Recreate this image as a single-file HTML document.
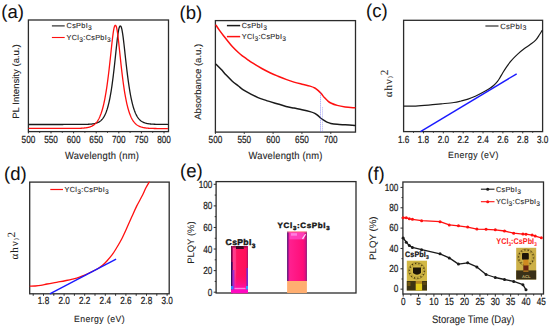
<!DOCTYPE html>
<html><head><meta charset="utf-8"><style>
html,body{margin:0;padding:0;background:#fff;}
svg{display:block;text-rendering:geometricPrecision;}
</style></head><body>
<svg width="550" height="328" viewBox="0 0 550 328">
<rect width="550" height="328" fill="#fff"/>
<rect x="28.4" y="20.0" width="140.1" height="111.6" fill="none" stroke="#2b2b2b" stroke-width="1.3"/>
<line x1="28.4" y1="131.6" x2="28.4" y2="133.35999999999999" stroke="#2b2b2b" stroke-width="1.0" />
<text x="0" y="0" font-size="8.2" text-anchor="middle" font-weight="normal" fill="#222" stroke="#222" stroke-width="0.18" font-family='"Liberation Sans", sans-serif' transform="translate(28.4 142.7) scale(1 1.25)" >500</text>
<line x1="39.7" y1="131.6" x2="39.7" y2="132.79999999999998" stroke="#2b2b2b" stroke-width="1.0" />
<line x1="51.0" y1="131.6" x2="51.0" y2="133.35999999999999" stroke="#2b2b2b" stroke-width="1.0" />
<text x="0" y="0" font-size="8.2" text-anchor="middle" font-weight="normal" fill="#222" stroke="#222" stroke-width="0.18" font-family='"Liberation Sans", sans-serif' transform="translate(51.0 142.7) scale(1 1.25)" >550</text>
<line x1="62.3" y1="131.6" x2="62.3" y2="132.79999999999998" stroke="#2b2b2b" stroke-width="1.0" />
<line x1="73.6" y1="131.6" x2="73.6" y2="133.35999999999999" stroke="#2b2b2b" stroke-width="1.0" />
<text x="0" y="0" font-size="8.2" text-anchor="middle" font-weight="normal" fill="#222" stroke="#222" stroke-width="0.18" font-family='"Liberation Sans", sans-serif' transform="translate(73.6 142.7) scale(1 1.25)" >600</text>
<line x1="84.9" y1="131.6" x2="84.9" y2="132.79999999999998" stroke="#2b2b2b" stroke-width="1.0" />
<line x1="96.19999999999999" y1="131.6" x2="96.19999999999999" y2="133.35999999999999" stroke="#2b2b2b" stroke-width="1.0" />
<text x="0" y="0" font-size="8.2" text-anchor="middle" font-weight="normal" fill="#222" stroke="#222" stroke-width="0.18" font-family='"Liberation Sans", sans-serif' transform="translate(96.19999999999999 142.7) scale(1 1.25)" >650</text>
<line x1="107.5" y1="131.6" x2="107.5" y2="132.79999999999998" stroke="#2b2b2b" stroke-width="1.0" />
<line x1="118.80000000000001" y1="131.6" x2="118.80000000000001" y2="133.35999999999999" stroke="#2b2b2b" stroke-width="1.0" />
<text x="0" y="0" font-size="8.2" text-anchor="middle" font-weight="normal" fill="#222" stroke="#222" stroke-width="0.18" font-family='"Liberation Sans", sans-serif' transform="translate(118.80000000000001 142.7) scale(1 1.25)" >700</text>
<line x1="130.1" y1="131.6" x2="130.1" y2="132.79999999999998" stroke="#2b2b2b" stroke-width="1.0" />
<line x1="141.4" y1="131.6" x2="141.4" y2="133.35999999999999" stroke="#2b2b2b" stroke-width="1.0" />
<text x="0" y="0" font-size="8.2" text-anchor="middle" font-weight="normal" fill="#222" stroke="#222" stroke-width="0.18" font-family='"Liberation Sans", sans-serif' transform="translate(141.4 142.7) scale(1 1.25)" >750</text>
<line x1="152.7" y1="131.6" x2="152.7" y2="132.79999999999998" stroke="#2b2b2b" stroke-width="1.0" />
<line x1="164.0" y1="131.6" x2="164.0" y2="133.35999999999999" stroke="#2b2b2b" stroke-width="1.0" />
<text x="0" y="0" font-size="8.2" text-anchor="middle" font-weight="normal" fill="#222" stroke="#222" stroke-width="0.18" font-family='"Liberation Sans", sans-serif' transform="translate(164.0 142.7) scale(1 1.25)" >800</text>
<text x="0" y="0" font-size="9.4" text-anchor="middle" font-weight="normal" fill="#222" stroke="#222" stroke-width="0.1" font-family='"Liberation Sans", sans-serif' transform="translate(102.0 158.7) scale(1 1.1)" letter-spacing="0.2">Wavelength (nm)</text>
<text x="0" y="0" font-size="9.2" text-anchor="middle" font-weight="normal" fill="#222" stroke="#222" stroke-width="0.1" font-family='"Liberation Sans", sans-serif' transform="translate(19.0 81.5) rotate(-90)" textLength="74.5" lengthAdjust="spacingAndGlyphs" >PL Intensity (a.u.)</text>
<text x="0" y="0" font-size="18.5" text-anchor="start" font-weight="normal" fill="#111" stroke="#111" stroke-width="0.05" font-family='"Liberation Sans", sans-serif' transform="translate(1.3 17.8) scale(1 1.0)" >(a)</text>
<path d="M29.10,124.50 L29.50,124.50 L29.90,124.50 L30.30,124.50 L30.70,124.50 L31.10,124.50 L31.50,124.50 L31.90,124.50 L32.30,124.50 L32.70,124.50 L33.10,124.50 L33.50,124.50 L33.90,124.50 L34.30,124.50 L34.70,124.50 L35.10,124.50 L35.50,124.49 L35.90,124.49 L36.30,124.49 L36.70,124.49 L37.10,124.49 L37.50,124.49 L37.90,124.49 L38.30,124.49 L38.70,124.49 L39.10,124.49 L39.50,124.49 L39.90,124.49 L40.30,124.49 L40.70,124.49 L41.10,124.49 L41.50,124.49 L41.90,124.49 L42.30,124.49 L42.70,124.49 L43.10,124.49 L43.50,124.49 L43.90,124.49 L44.30,124.49 L44.70,124.49 L45.10,124.49 L45.50,124.49 L45.90,124.49 L46.30,124.49 L46.70,124.49 L47.10,124.49 L47.50,124.49 L47.90,124.49 L48.30,124.49 L48.70,124.49 L49.10,124.49 L49.50,124.48 L49.90,124.48 L50.30,124.48 L50.70,124.48 L51.10,124.48 L51.50,124.48 L51.90,124.48 L52.30,124.48 L52.70,124.48 L53.10,124.48 L53.50,124.48 L53.90,124.48 L54.30,124.48 L54.70,124.48 L55.10,124.48 L55.50,124.48 L55.90,124.48 L56.30,124.48 L56.70,124.48 L57.10,124.48 L57.50,124.48 L57.90,124.48 L58.30,124.48 L58.70,124.48 L59.10,124.48 L59.50,124.48 L59.90,124.48 L60.30,124.48 L60.70,124.48 L61.10,124.48 L61.50,124.48 L61.90,124.48 L62.30,124.48 L62.70,124.48 L63.10,124.48 L63.50,124.47 L63.90,124.47 L64.30,124.47 L64.70,124.47 L65.10,124.47 L65.50,124.47 L65.90,124.47 L66.30,124.47 L66.70,124.47 L67.10,124.47 L67.50,124.47 L67.90,124.47 L68.30,124.47 L68.70,124.47 L69.10,124.47 L69.50,124.47 L69.90,124.47 L70.30,124.47 L70.70,124.47 L71.10,124.47 L71.50,124.47 L71.90,124.47 L72.30,124.47 L72.70,124.47 L73.10,124.46 L73.50,124.46 L73.90,124.46 L74.30,124.46 L74.70,124.46 L75.10,124.46 L75.50,124.46 L75.90,124.46 L76.30,124.46 L76.70,124.46 L77.10,124.45 L77.50,124.45 L77.90,124.45 L78.30,124.45 L78.70,124.45 L79.10,124.45 L79.50,124.44 L79.90,124.44 L80.30,124.44 L80.70,124.44 L81.10,124.43 L81.50,124.43 L81.90,124.43 L82.30,124.42 L82.70,124.42 L83.10,124.41 L83.50,124.41 L83.90,124.40 L84.30,124.39 L84.70,124.38 L85.10,124.38 L85.50,124.37 L85.90,124.36 L86.30,124.35 L86.70,124.33 L87.10,124.32 L87.50,124.30 L87.90,124.29 L88.30,124.27 L88.70,124.25 L89.10,124.23 L89.50,124.20 L89.90,124.18 L90.30,124.15 L90.70,124.11 L91.10,124.08 L91.50,124.04 L91.90,124.00 L92.30,123.95 L92.70,123.89 L93.10,123.84 L93.50,123.77 L93.90,123.70 L94.30,123.63 L94.70,123.54 L95.10,123.45 L95.50,123.35 L95.90,123.24 L96.30,123.12 L96.70,122.98 L97.10,122.84 L97.50,122.68 L97.90,122.50 L98.30,122.31 L98.70,122.10 L99.10,121.87 L99.50,121.63 L99.90,121.35 L100.30,121.05 L100.70,120.73 L101.10,120.37 L101.50,119.99 L101.90,119.57 L102.30,119.11 L102.70,118.61 L103.10,118.07 L103.50,117.48 L103.90,116.84 L104.30,116.14 L104.70,115.39 L105.10,114.58 L105.50,113.69 L105.90,112.74 L106.30,111.71 L106.70,110.59 L107.10,109.39 L107.50,108.09 L107.90,106.70 L108.30,105.19 L108.70,103.58 L109.10,101.85 L109.50,100.00 L109.90,98.02 L110.30,95.91 L110.70,93.66 L111.10,91.27 L111.50,88.73 L111.90,86.04 L112.30,83.20 L112.70,80.21 L113.10,77.07 L113.50,73.79 L113.90,70.38 L114.30,66.84 L114.70,63.20 L115.10,59.48 L115.50,55.70 L115.90,51.91 L116.30,48.14 L116.70,44.45 L117.10,40.90 L117.50,37.56 L117.90,34.52 L118.30,31.85 L118.70,29.63 L119.10,27.92 L119.50,26.77 L119.90,26.16 L120.30,26.00 L120.70,26.15 L121.10,26.73 L121.50,27.82 L121.90,29.43 L122.30,31.53 L122.70,34.06 L123.10,36.95 L123.50,40.13 L123.90,43.51 L124.30,47.04 L124.70,50.66 L125.10,54.31 L125.50,57.95 L125.90,61.55 L126.30,65.09 L126.70,68.53 L127.10,71.87 L127.50,75.09 L127.90,78.18 L128.30,81.13 L128.70,83.95 L129.10,86.63 L129.50,89.18 L129.90,91.58 L130.30,93.86 L130.70,96.00 L131.10,98.01 L131.50,99.91 L131.90,101.68 L132.30,103.34 L132.70,104.90 L133.10,106.35 L133.50,107.70 L133.90,108.97 L134.30,110.15 L134.70,111.24 L135.10,112.26 L135.50,113.20 L135.90,114.08 L136.30,114.89 L136.70,115.65 L137.10,116.35 L137.50,116.99 L137.90,117.59 L138.30,118.14 L138.70,118.65 L139.10,119.12 L139.50,119.55 L139.90,119.95 L140.30,120.32 L140.70,120.66 L141.10,120.98 L141.50,121.26 L141.90,121.53 L142.30,121.77 L142.70,122.00 L143.10,122.20 L143.50,122.39 L143.90,122.56 L144.30,122.72 L144.70,122.87 L145.10,123.00 L145.50,123.12 L145.90,123.24 L146.30,123.34 L146.70,123.43 L147.10,123.52 L147.50,123.60 L147.90,123.67 L148.30,123.73 L148.70,123.79 L149.10,123.85 L149.50,123.90 L149.90,123.94 L150.30,123.99 L150.70,124.02 L151.10,124.06 L151.50,124.09 L151.90,124.12 L152.30,124.15 L152.70,124.17 L153.10,124.19 L153.50,124.21 L153.90,124.23 L154.30,124.25 L154.70,124.26 L155.10,124.27 L155.50,124.29 L155.90,124.30 L156.30,124.31 L156.70,124.32 L157.10,124.32 L157.50,124.33 L157.90,124.34 L158.30,124.34 L158.70,124.35 L159.10,124.36 L159.50,124.36 L159.90,124.36 L160.30,124.37 L160.70,124.37 L161.10,124.37 L161.50,124.38 L161.90,124.38 L162.30,124.38 L162.70,124.38 L163.10,124.38 L163.50,124.39 L163.90,124.39 L164.30,124.39 L164.70,124.39 L165.10,124.39 L165.50,124.39 L165.90,124.39 L166.30,124.39 L166.70,124.39 L167.10,124.39 L167.50,124.39" fill="none" stroke="#1a1a1a" stroke-width="1.3" stroke-linejoin="round" stroke-linecap="round" />
<path d="M29.10,128.40 L29.50,128.40 L29.90,128.40 L30.30,128.40 L30.70,128.40 L31.10,128.40 L31.50,128.40 L31.90,128.40 L32.30,128.41 L32.70,128.41 L33.10,128.41 L33.50,128.41 L33.90,128.41 L34.30,128.41 L34.70,128.41 L35.10,128.41 L35.50,128.41 L35.90,128.41 L36.30,128.41 L36.70,128.41 L37.10,128.41 L37.50,128.41 L37.90,128.41 L38.30,128.41 L38.70,128.41 L39.10,128.42 L39.50,128.42 L39.90,128.42 L40.30,128.42 L40.70,128.42 L41.10,128.42 L41.50,128.42 L41.90,128.42 L42.30,128.42 L42.70,128.42 L43.10,128.42 L43.50,128.42 L43.90,128.42 L44.30,128.42 L44.70,128.42 L45.10,128.42 L45.50,128.42 L45.90,128.42 L46.30,128.43 L46.70,128.43 L47.10,128.43 L47.50,128.43 L47.90,128.43 L48.30,128.43 L48.70,128.43 L49.10,128.43 L49.50,128.43 L49.90,128.43 L50.30,128.43 L50.70,128.43 L51.10,128.43 L51.50,128.43 L51.90,128.43 L52.30,128.43 L52.70,128.43 L53.10,128.43 L53.50,128.44 L53.90,128.44 L54.30,128.44 L54.70,128.44 L55.10,128.44 L55.50,128.44 L55.90,128.44 L56.30,128.44 L56.70,128.44 L57.10,128.44 L57.50,128.44 L57.90,128.44 L58.30,128.44 L58.70,128.44 L59.10,128.44 L59.50,128.44 L59.90,128.44 L60.30,128.44 L60.70,128.44 L61.10,128.44 L61.50,128.44 L61.90,128.45 L62.30,128.45 L62.70,128.45 L63.10,128.45 L63.50,128.45 L63.90,128.45 L64.30,128.45 L64.70,128.45 L65.10,128.45 L65.50,128.45 L65.90,128.45 L66.30,128.45 L66.70,128.45 L67.10,128.45 L67.50,128.45 L67.90,128.45 L68.30,128.45 L68.70,128.44 L69.10,128.44 L69.50,128.44 L69.90,128.44 L70.30,128.44 L70.70,128.44 L71.10,128.44 L71.50,128.44 L71.90,128.43 L72.30,128.43 L72.70,128.43 L73.10,128.43 L73.50,128.42 L73.90,128.42 L74.30,128.42 L74.70,128.41 L75.10,128.41 L75.50,128.40 L75.90,128.40 L76.30,128.39 L76.70,128.38 L77.10,128.38 L77.50,128.37 L77.90,128.36 L78.30,128.35 L78.70,128.34 L79.10,128.33 L79.50,128.31 L79.90,128.30 L80.30,128.28 L80.70,128.27 L81.10,128.25 L81.50,128.23 L81.90,128.20 L82.30,128.18 L82.70,128.15 L83.10,128.12 L83.50,128.09 L83.90,128.05 L84.30,128.01 L84.70,127.97 L85.10,127.93 L85.50,127.87 L85.90,127.82 L86.30,127.76 L86.70,127.69 L87.10,127.62 L87.50,127.55 L87.90,127.46 L88.30,127.37 L88.70,127.27 L89.10,127.16 L89.50,127.05 L89.90,126.92 L90.30,126.78 L90.70,126.63 L91.10,126.47 L91.50,126.29 L91.90,126.10 L92.30,125.89 L92.70,125.66 L93.10,125.42 L93.50,125.15 L93.90,124.87 L94.30,124.56 L94.70,124.22 L95.10,123.86 L95.50,123.47 L95.90,123.05 L96.30,122.59 L96.70,122.10 L97.10,121.57 L97.50,121.00 L97.90,120.38 L98.30,119.72 L98.70,119.01 L99.10,118.24 L99.50,117.41 L99.90,116.53 L100.30,115.57 L100.70,114.55 L101.10,113.46 L101.50,112.29 L101.90,111.03 L102.30,109.69 L102.70,108.26 L103.10,106.73 L103.50,105.09 L103.90,103.35 L104.30,101.50 L104.70,99.54 L105.10,97.45 L105.50,95.24 L105.90,92.89 L106.30,90.42 L106.70,87.81 L107.10,85.06 L107.50,82.18 L107.90,79.16 L108.30,76.00 L108.70,72.72 L109.10,69.31 L109.50,65.79 L109.90,62.17 L110.30,58.48 L110.70,54.74 L111.10,50.97 L111.50,47.23 L111.90,43.55 L112.30,40.01 L112.70,36.67 L113.10,33.62 L113.50,30.93 L113.90,28.71 L114.30,27.02 L114.70,25.92 L115.10,25.39 L115.50,25.31 L115.90,25.64 L116.30,26.54 L116.70,28.05 L117.10,30.13 L117.50,32.70 L117.90,35.69 L118.30,39.00 L118.70,42.55 L119.10,46.24 L119.50,50.03 L119.90,53.84 L120.30,57.64 L120.70,61.40 L121.10,65.07 L121.50,68.65 L121.90,72.11 L122.30,75.45 L122.70,78.65 L123.10,81.71 L123.50,84.63 L123.90,87.41 L124.30,90.05 L124.70,92.55 L125.10,94.91 L125.50,97.14 L125.90,99.24 L126.30,101.22 L126.70,103.08 L127.10,104.83 L127.50,106.47 L127.90,108.01 L128.30,109.45 L128.70,110.80 L129.10,112.06 L129.50,113.23 L129.90,114.33 L130.30,115.36 L130.70,116.32 L131.10,117.21 L131.50,118.04 L131.90,118.81 L132.30,119.53 L132.70,120.20 L133.10,120.82 L133.50,121.40 L133.90,121.93 L134.30,122.43 L134.70,122.89 L135.10,123.32 L135.50,123.72 L135.90,124.09 L136.30,124.43 L136.70,124.75 L137.10,125.04 L137.50,125.31 L137.90,125.56 L138.30,125.80 L138.70,126.01 L139.10,126.21 L139.50,126.39 L139.90,126.57 L140.30,126.72 L140.70,126.87 L141.10,127.00 L141.50,127.13 L141.90,127.24 L142.30,127.35 L142.70,127.44 L143.10,127.53 L143.50,127.62 L143.90,127.69 L144.30,127.76 L144.70,127.83 L145.10,127.89 L145.50,127.94 L145.90,127.99 L146.30,128.04 L146.70,128.08 L147.10,128.12 L147.50,128.16 L147.90,128.20 L148.30,128.23 L148.70,128.26 L149.10,128.28 L149.50,128.31 L149.90,128.33 L150.30,128.35 L150.70,128.37 L151.10,128.39 L151.50,128.40 L151.90,128.42 L152.30,128.43 L152.70,128.44 L153.10,128.46 L153.50,128.47 L153.90,128.48 L154.30,128.49 L154.70,128.49 L155.10,128.50 L155.50,128.51 L155.90,128.52 L156.30,128.52 L156.70,128.53 L157.10,128.53 L157.50,128.54 L157.90,128.54 L158.30,128.55 L158.70,128.55 L159.10,128.55 L159.50,128.56 L159.90,128.56 L160.30,128.56 L160.70,128.57 L161.10,128.57 L161.50,128.57 L161.90,128.57 L162.30,128.58 L162.70,128.58 L163.10,128.58 L163.50,128.58 L163.90,128.58 L164.30,128.58 L164.70,128.59 L165.10,128.59 L165.50,128.59 L165.90,128.59 L166.30,128.59 L166.70,128.59 L167.10,128.59 L167.50,128.59" fill="none" stroke="#ff1010" stroke-width="1.3" stroke-linejoin="round" stroke-linecap="round" />
<line x1="51.9" y1="25.9" x2="64.7" y2="25.9" stroke="#1a1a1a" stroke-width="1.1" />
<text x="0" y="0" font-size="7.3" text-anchor="start" font-weight="normal" fill="#2a2a2a" stroke="#2a2a2a" stroke-width="0.12" letter-spacing="0.3" font-family='"Liberation Sans", sans-serif' transform="translate(66.6 28.4) scale(1 1.0)"><tspan>CsPbI</tspan><tspan font-size="6.72" dy="1.90">3</tspan></text>
<line x1="51.9" y1="37.5" x2="64.7" y2="37.5" stroke="#ff1010" stroke-width="1.1" />
<text x="0" y="0" font-size="7.3" text-anchor="start" font-weight="normal" fill="#2a2a2a" stroke="#2a2a2a" stroke-width="0.12" letter-spacing="0.3" font-family='"Liberation Sans", sans-serif' transform="translate(66.6 40.0) scale(1 1.0)"><tspan>YCl</tspan><tspan font-size="6.72" dy="1.90">3</tspan><tspan dy="-1.90">:CsPbI</tspan><tspan font-size="6.72" dy="1.90">3</tspan></text>
<rect x="215.4" y="20.6" width="140.1" height="111.5" fill="none" stroke="#2b2b2b" stroke-width="1.3"/>
<line x1="215.4" y1="132.1" x2="215.4" y2="133.9" stroke="#2b2b2b" stroke-width="1.0" />
<text x="0" y="0" font-size="8.2" text-anchor="middle" font-weight="normal" fill="#222" stroke="#222" stroke-width="0.18" font-family='"Liberation Sans", sans-serif' transform="translate(215.4 142.7) scale(1 1.25)" >500</text>
<line x1="244.25" y1="132.1" x2="244.25" y2="133.9" stroke="#2b2b2b" stroke-width="1.0" />
<text x="0" y="0" font-size="8.2" text-anchor="middle" font-weight="normal" fill="#222" stroke="#222" stroke-width="0.18" font-family='"Liberation Sans", sans-serif' transform="translate(244.25 142.7) scale(1 1.25)" >550</text>
<line x1="273.1" y1="132.1" x2="273.1" y2="133.9" stroke="#2b2b2b" stroke-width="1.0" />
<text x="0" y="0" font-size="8.2" text-anchor="middle" font-weight="normal" fill="#222" stroke="#222" stroke-width="0.18" font-family='"Liberation Sans", sans-serif' transform="translate(273.1 142.7) scale(1 1.25)" >600</text>
<line x1="301.95" y1="132.1" x2="301.95" y2="133.9" stroke="#2b2b2b" stroke-width="1.0" />
<text x="0" y="0" font-size="8.2" text-anchor="middle" font-weight="normal" fill="#222" stroke="#222" stroke-width="0.18" font-family='"Liberation Sans", sans-serif' transform="translate(301.95 142.7) scale(1 1.25)" >650</text>
<line x1="330.8" y1="132.1" x2="330.8" y2="133.9" stroke="#2b2b2b" stroke-width="1.0" />
<text x="0" y="0" font-size="8.2" text-anchor="middle" font-weight="normal" fill="#222" stroke="#222" stroke-width="0.18" font-family='"Liberation Sans", sans-serif' transform="translate(330.8 142.7) scale(1 1.25)" >700</text>
<text x="0" y="0" font-size="9.4" text-anchor="middle" font-weight="normal" fill="#222" stroke="#222" stroke-width="0.1" font-family='"Liberation Sans", sans-serif' transform="translate(285.6 158.7) scale(1 1.1)" letter-spacing="0.2">Wavelength (nm)</text>
<text x="0" y="0" font-size="9.2" text-anchor="middle" font-weight="normal" fill="#222" stroke="#222" stroke-width="0.1" font-family='"Liberation Sans", sans-serif' transform="translate(201.3 81.8) rotate(-90)" textLength="76" lengthAdjust="spacingAndGlyphs" >Absorbance (a.u.)</text>
<text x="0" y="0" font-size="18.5" text-anchor="start" font-weight="normal" fill="#111" stroke="#111" stroke-width="0.05" font-family='"Liberation Sans", sans-serif' transform="translate(179.6 18.6) scale(1 1.0)" >(b)</text>
<path d="M216.00,25.20 C216.58,26.07 218.17,28.55 219.50,30.40 C220.83,32.25 222.50,34.37 224.00,36.30 C225.50,38.23 227.00,40.17 228.50,42.00 C230.00,43.83 231.40,45.58 233.00,47.30 C234.60,49.02 236.60,50.92 238.10,52.30 C239.60,53.68 240.48,54.43 242.00,55.60 C243.52,56.77 245.53,58.12 247.20,59.30 C248.87,60.48 249.57,61.17 252.00,62.70 C254.43,64.23 258.80,66.83 261.80,68.50 C264.80,70.17 267.30,71.42 270.00,72.70 C272.70,73.98 275.33,75.08 278.00,76.20 C280.67,77.32 283.33,78.42 286.00,79.40 C288.67,80.38 291.33,81.30 294.00,82.10 C296.67,82.90 299.33,83.53 302.00,84.20 C304.67,84.87 307.87,85.47 310.00,86.10 C312.13,86.73 313.47,87.28 314.80,88.00 C316.13,88.72 316.93,89.47 318.00,90.40 C319.07,91.33 320.13,92.40 321.20,93.60 C322.27,94.80 323.33,96.40 324.40,97.60 C325.47,98.80 326.53,99.90 327.60,100.80 C328.67,101.70 329.20,102.23 330.80,103.00 C332.40,103.77 334.80,104.75 337.20,105.40 C339.60,106.05 342.25,106.50 345.20,106.90 C348.15,107.30 353.28,107.65 354.90,107.80" fill="none" stroke="#ff1010" stroke-width="1.5" stroke-linejoin="round" stroke-linecap="round" />
<path d="M216.00,64.30 C216.88,65.18 219.60,67.80 221.30,69.60 C223.00,71.40 224.37,73.17 226.20,75.10 C228.03,77.03 230.27,79.38 232.30,81.20 C234.33,83.02 236.57,84.57 238.40,86.00 C240.23,87.43 241.37,88.53 243.30,89.80 C245.23,91.07 247.55,92.30 250.00,93.60 C252.45,94.90 255.33,96.47 258.00,97.60 C260.67,98.73 264.00,99.73 266.00,100.40 C268.00,101.07 268.00,101.00 270.00,101.60 C272.00,102.20 275.33,103.20 278.00,104.00 C280.67,104.80 283.33,105.72 286.00,106.40 C288.67,107.08 291.33,107.55 294.00,108.10 C296.67,108.65 299.33,109.12 302.00,109.70 C304.67,110.28 307.87,111.00 310.00,111.60 C312.13,112.20 313.47,112.63 314.80,113.30 C316.13,113.97 316.93,114.73 318.00,115.60 C319.07,116.47 320.13,117.67 321.20,118.50 C322.27,119.33 323.33,119.95 324.40,120.60 C325.47,121.25 326.53,121.93 327.60,122.40 C328.67,122.87 329.20,123.08 330.80,123.40 C332.40,123.72 334.80,124.07 337.20,124.30 C339.60,124.53 342.25,124.62 345.20,124.80 C348.15,124.98 353.28,125.30 354.90,125.40" fill="none" stroke="#1a1a1a" stroke-width="1.5" stroke-linejoin="round" stroke-linecap="round" />
<line x1="320.4" y1="92.5" x2="320.4" y2="132.1" stroke="#5a5af0" stroke-width="0.6" opacity="0.85" stroke-dasharray="1.5 0.6"/>
<line x1="322.3" y1="107" x2="322.3" y2="132.1" stroke="#6a6af0" stroke-width="0.6" opacity="0.75" stroke-dasharray="1.5 0.6"/>
<line x1="226.9" y1="25.6" x2="240.2" y2="25.6" stroke="#1a1a1a" stroke-width="1.5" />
<text x="0" y="0" font-size="7.3" text-anchor="start" font-weight="normal" fill="#2a2a2a" stroke="#2a2a2a" stroke-width="0.12" letter-spacing="0.3" font-family='"Liberation Sans", sans-serif' transform="translate(241.8 28.1) scale(1 1.0)"><tspan>CsPbI</tspan><tspan font-size="6.72" dy="1.90">3</tspan></text>
<line x1="226.9" y1="36.6" x2="240.2" y2="36.6" stroke="#ff1010" stroke-width="1.5" />
<text x="0" y="0" font-size="7.3" text-anchor="start" font-weight="normal" fill="#2a2a2a" stroke="#2a2a2a" stroke-width="0.12" letter-spacing="0.3" font-family='"Liberation Sans", sans-serif' transform="translate(241.8 39.3) scale(1 1.0)"><tspan>YCl</tspan><tspan font-size="6.72" dy="1.90">3</tspan><tspan dy="-1.90">:CsPbI</tspan><tspan font-size="6.72" dy="1.90">3</tspan></text>
<rect x="403.6" y="20.3" width="139.0" height="111.3" fill="none" stroke="#2b2b2b" stroke-width="1.3"/>
<text x="0" y="0" font-size="8.2" text-anchor="middle" font-weight="normal" fill="#222" stroke="#222" stroke-width="0.18" font-family='"Liberation Sans", sans-serif' transform="translate(403.6 142.7) scale(1 1.25)" >1.6</text>
<line x1="413.53000000000003" y1="131.6" x2="413.53000000000003" y2="132.79999999999998" stroke="#2b2b2b" stroke-width="1.0" />
<line x1="423.46000000000004" y1="131.6" x2="423.46000000000004" y2="133.35999999999999" stroke="#2b2b2b" stroke-width="1.0" />
<text x="0" y="0" font-size="8.2" text-anchor="middle" font-weight="normal" fill="#222" stroke="#222" stroke-width="0.18" font-family='"Liberation Sans", sans-serif' transform="translate(423.46000000000004 142.7) scale(1 1.25)" >1.8</text>
<line x1="433.39000000000004" y1="131.6" x2="433.39000000000004" y2="132.79999999999998" stroke="#2b2b2b" stroke-width="1.0" />
<line x1="443.32" y1="131.6" x2="443.32" y2="133.35999999999999" stroke="#2b2b2b" stroke-width="1.0" />
<text x="0" y="0" font-size="8.2" text-anchor="middle" font-weight="normal" fill="#222" stroke="#222" stroke-width="0.18" font-family='"Liberation Sans", sans-serif' transform="translate(443.32 142.7) scale(1 1.25)" >2.0</text>
<line x1="453.25" y1="131.6" x2="453.25" y2="132.79999999999998" stroke="#2b2b2b" stroke-width="1.0" />
<line x1="463.18" y1="131.6" x2="463.18" y2="133.35999999999999" stroke="#2b2b2b" stroke-width="1.0" />
<text x="0" y="0" font-size="8.2" text-anchor="middle" font-weight="normal" fill="#222" stroke="#222" stroke-width="0.18" font-family='"Liberation Sans", sans-serif' transform="translate(463.18 142.7) scale(1 1.25)" >2.2</text>
<line x1="473.11" y1="131.6" x2="473.11" y2="132.79999999999998" stroke="#2b2b2b" stroke-width="1.0" />
<line x1="483.0400000000001" y1="131.6" x2="483.0400000000001" y2="133.35999999999999" stroke="#2b2b2b" stroke-width="1.0" />
<text x="0" y="0" font-size="8.2" text-anchor="middle" font-weight="normal" fill="#222" stroke="#222" stroke-width="0.18" font-family='"Liberation Sans", sans-serif' transform="translate(483.0400000000001 142.7) scale(1 1.25)" >2.4</text>
<line x1="492.97" y1="131.6" x2="492.97" y2="132.79999999999998" stroke="#2b2b2b" stroke-width="1.0" />
<line x1="502.90000000000003" y1="131.6" x2="502.90000000000003" y2="133.35999999999999" stroke="#2b2b2b" stroke-width="1.0" />
<text x="0" y="0" font-size="8.2" text-anchor="middle" font-weight="normal" fill="#222" stroke="#222" stroke-width="0.18" font-family='"Liberation Sans", sans-serif' transform="translate(502.90000000000003 142.7) scale(1 1.25)" >2.6</text>
<line x1="512.83" y1="131.6" x2="512.83" y2="132.79999999999998" stroke="#2b2b2b" stroke-width="1.0" />
<line x1="522.76" y1="131.6" x2="522.76" y2="133.35999999999999" stroke="#2b2b2b" stroke-width="1.0" />
<text x="0" y="0" font-size="8.2" text-anchor="middle" font-weight="normal" fill="#222" stroke="#222" stroke-width="0.18" font-family='"Liberation Sans", sans-serif' transform="translate(522.76 142.7) scale(1 1.25)" >2.8</text>
<line x1="532.69" y1="131.6" x2="532.69" y2="132.79999999999998" stroke="#2b2b2b" stroke-width="1.0" />
<text x="0" y="0" font-size="8.2" text-anchor="middle" font-weight="normal" fill="#222" stroke="#222" stroke-width="0.18" font-family='"Liberation Sans", sans-serif' transform="translate(542.62 142.7) scale(1 1.25)" >3.0</text>
<text x="0" y="0" font-size="8.7" text-anchor="middle" font-weight="normal" fill="#222" stroke="#222" stroke-width="0.1" font-family='"Liberation Sans", sans-serif' transform="translate(473.4 157.9) scale(1 1.05)" letter-spacing="0.42">Energy (eV)</text>
<text x="0" y="0" font-size="18.5" text-anchor="start" font-weight="normal" fill="#111" stroke="#111" stroke-width="0.05" font-family='"Liberation Sans", sans-serif' transform="translate(366.0 17.1) scale(1 1.0)" >(c)</text>
<path d="M404.10,106.10 C406.03,106.10 411.63,106.25 415.70,106.10 C419.77,105.95 424.25,105.57 428.50,105.20 C432.75,104.83 436.97,104.35 441.20,103.90 C445.43,103.45 450.60,102.98 453.90,102.50 C457.20,102.02 458.65,101.57 461.00,101.00 C463.35,100.43 465.62,99.90 468.00,99.10 C470.38,98.30 472.87,97.30 475.30,96.20 C477.73,95.10 480.15,93.83 482.60,92.50 C485.05,91.17 488.17,89.37 490.00,88.20 C491.83,87.03 492.38,86.60 493.60,85.50 C494.82,84.40 496.23,82.92 497.30,81.60 C498.37,80.28 499.08,79.07 500.00,77.60 C500.92,76.13 501.62,74.72 502.80,72.80 C503.98,70.88 505.68,68.13 507.10,66.10 C508.52,64.07 509.53,62.60 511.30,60.60 C513.07,58.60 515.57,56.07 517.70,54.10 C519.83,52.13 521.97,50.43 524.10,48.80 C526.23,47.17 528.53,45.80 530.50,44.30 C532.47,42.80 534.38,41.43 535.90,39.80 C537.42,38.17 538.55,36.08 539.60,34.50 C540.65,32.92 541.77,31.00 542.20,30.30" fill="none" stroke="#1a1a1a" stroke-width="1.2" stroke-linejoin="round" stroke-linecap="round" />
<line x1="420.5" y1="131.6" x2="516.7" y2="73.8" stroke="#1a1aff" stroke-width="1.4" />
<line x1="485.4" y1="26" x2="498.5" y2="26" stroke="#1a1a1a" stroke-width="1.1" />
<text x="0" y="0" font-size="7.6" text-anchor="start" font-weight="normal" fill="#2a2a2a" stroke="#2a2a2a" stroke-width="0.12" letter-spacing="0.3" font-family='"Liberation Sans", sans-serif' transform="translate(500.2 28.5) scale(1 1.0)"><tspan>CsPbI</tspan><tspan font-size="6.99" dy="1.98">3</tspan></text>
<rect x="29.7" y="182.1" width="139.5" height="111.70000000000002" fill="none" stroke="#2b2b2b" stroke-width="1.3"/>
<line x1="33.19999999999999" y1="293.8" x2="33.19999999999999" y2="295.8" stroke="#2b2b2b" stroke-width="1.0" />
<line x1="43.5" y1="293.8" x2="43.5" y2="295.8" stroke="#2b2b2b" stroke-width="1.0" />
<text x="0" y="0" font-size="8.2" text-anchor="middle" font-weight="normal" fill="#222" stroke="#222" stroke-width="0.18" font-family='"Liberation Sans", sans-serif' transform="translate(43.5 304.4) scale(1 1.25)" >1.8</text>
<line x1="53.79999999999998" y1="293.8" x2="53.79999999999998" y2="295.8" stroke="#2b2b2b" stroke-width="1.0" />
<line x1="64.1" y1="293.8" x2="64.1" y2="295.8" stroke="#2b2b2b" stroke-width="1.0" />
<text x="0" y="0" font-size="8.2" text-anchor="middle" font-weight="normal" fill="#222" stroke="#222" stroke-width="0.18" font-family='"Liberation Sans", sans-serif' transform="translate(64.1 304.4) scale(1 1.25)" >2.0</text>
<line x1="74.4" y1="293.8" x2="74.4" y2="295.8" stroke="#2b2b2b" stroke-width="1.0" />
<line x1="84.70000000000002" y1="293.8" x2="84.70000000000002" y2="295.8" stroke="#2b2b2b" stroke-width="1.0" />
<text x="0" y="0" font-size="8.2" text-anchor="middle" font-weight="normal" fill="#222" stroke="#222" stroke-width="0.18" font-family='"Liberation Sans", sans-serif' transform="translate(84.70000000000002 304.4) scale(1 1.25)" >2.2</text>
<line x1="94.99999999999997" y1="293.8" x2="94.99999999999997" y2="295.8" stroke="#2b2b2b" stroke-width="1.0" />
<line x1="105.29999999999998" y1="293.8" x2="105.29999999999998" y2="295.8" stroke="#2b2b2b" stroke-width="1.0" />
<text x="0" y="0" font-size="8.2" text-anchor="middle" font-weight="normal" fill="#222" stroke="#222" stroke-width="0.18" font-family='"Liberation Sans", sans-serif' transform="translate(105.29999999999998 304.4) scale(1 1.25)" >2.4</text>
<line x1="115.6" y1="293.8" x2="115.6" y2="295.8" stroke="#2b2b2b" stroke-width="1.0" />
<line x1="125.9" y1="293.8" x2="125.9" y2="295.8" stroke="#2b2b2b" stroke-width="1.0" />
<text x="0" y="0" font-size="8.2" text-anchor="middle" font-weight="normal" fill="#222" stroke="#222" stroke-width="0.18" font-family='"Liberation Sans", sans-serif' transform="translate(125.9 304.4) scale(1 1.25)" >2.6</text>
<line x1="136.20000000000002" y1="293.8" x2="136.20000000000002" y2="295.8" stroke="#2b2b2b" stroke-width="1.0" />
<line x1="146.49999999999997" y1="293.8" x2="146.49999999999997" y2="295.8" stroke="#2b2b2b" stroke-width="1.0" />
<text x="0" y="0" font-size="8.2" text-anchor="middle" font-weight="normal" fill="#222" stroke="#222" stroke-width="0.18" font-family='"Liberation Sans", sans-serif' transform="translate(146.49999999999997 304.4) scale(1 1.25)" >2.8</text>
<line x1="156.8" y1="293.8" x2="156.8" y2="295.8" stroke="#2b2b2b" stroke-width="1.0" />
<line x1="167.1" y1="293.8" x2="167.1" y2="295.8" stroke="#2b2b2b" stroke-width="1.0" />
<text x="0" y="0" font-size="8.2" text-anchor="middle" font-weight="normal" fill="#222" stroke="#222" stroke-width="0.18" font-family='"Liberation Sans", sans-serif' transform="translate(167.1 304.4) scale(1 1.25)" >3.0</text>
<text x="0" y="0" font-size="8.7" text-anchor="middle" font-weight="normal" fill="#222" stroke="#222" stroke-width="0.1" font-family='"Liberation Sans", sans-serif' transform="translate(99.5 321.5) scale(1 1.05)" letter-spacing="0.42">Energy (eV)</text>
<text x="0" y="0" font-size="18.5" text-anchor="start" font-weight="normal" fill="#111" stroke="#111" stroke-width="0.05" font-family='"Liberation Sans", sans-serif' transform="translate(4.0 180.0) scale(1 1.0)" >(d)</text>
<path d="M30.30,286.20 C31.08,286.17 33.27,286.13 35.00,286.00 C36.73,285.87 38.70,285.73 40.70,285.40 C42.70,285.07 44.87,284.43 47.00,284.00 C49.13,283.57 51.33,283.18 53.50,282.80 C55.67,282.42 57.88,282.08 60.00,281.70 C62.12,281.32 64.12,280.93 66.20,280.50 C68.28,280.07 70.38,279.62 72.50,279.10 C74.62,278.58 76.77,278.10 78.90,277.40 C81.03,276.70 83.12,275.87 85.30,274.90 C87.48,273.93 89.88,272.67 92.00,271.60 C94.12,270.53 96.20,269.58 98.00,268.50 C99.80,267.42 101.32,266.35 102.80,265.10 C104.28,263.85 105.30,262.78 106.90,261.00 C108.50,259.22 110.80,256.57 112.40,254.40 C114.00,252.23 114.95,250.57 116.50,248.00 C118.05,245.43 120.00,242.28 121.70,239.00 C123.40,235.72 125.02,232.00 126.70,228.30 C128.38,224.60 130.12,220.53 131.80,216.80 C133.48,213.07 135.00,209.53 136.80,205.90 C138.60,202.27 141.10,197.98 142.60,195.00 C144.10,192.02 144.70,190.15 145.80,188.00 C146.90,185.85 148.63,183.08 149.20,182.10" fill="none" stroke="#ff1010" stroke-width="1.3" stroke-linejoin="round" stroke-linecap="round" />
<line x1="49.8" y1="293.8" x2="116.1" y2="259.1" stroke="#1a1aff" stroke-width="1.4" />
<line x1="50.3" y1="189.5" x2="63.0" y2="189.5" stroke="#ff1010" stroke-width="1.2" />
<text x="0" y="0" font-size="7.3" text-anchor="start" font-weight="normal" fill="#2a2a2a" stroke="#2a2a2a" stroke-width="0.12" letter-spacing="0.3" font-family='"Liberation Sans", sans-serif' transform="translate(64.6 192.0) scale(1 1.0)"><tspan>YCl</tspan><tspan font-size="6.72" dy="1.90">3</tspan><tspan dy="-1.90">:CsPbI</tspan><tspan font-size="6.72" dy="1.90">3</tspan></text>
<text x="0" y="0" font-size="18.5" text-anchor="start" font-weight="normal" fill="#111" stroke="#111" stroke-width="0.05" font-family='"Liberation Sans", sans-serif' transform="translate(180.0 177.1) scale(1 1.0)" >(e)</text>
<rect x="216.1" y="181.6" width="139.9" height="111.4" fill="none" stroke="#2b2b2b" stroke-width="1.3"/>
<line x1="213.7" y1="292.2" x2="216.1" y2="292.2" stroke="#2b2b2b" stroke-width="1.0" />
<text x="0" y="0" font-size="8.2" text-anchor="end" font-weight="normal" fill="#222" stroke="#222" stroke-width="0.18" font-family='"Liberation Sans", sans-serif' transform="translate(212.3 295.7) scale(1 1.25)" >0</text>
<line x1="214.7" y1="281.40999999999997" x2="216.1" y2="281.40999999999997" stroke="#2b2b2b" stroke-width="1.0" />
<line x1="213.7" y1="270.62" x2="216.1" y2="270.62" stroke="#2b2b2b" stroke-width="1.0" />
<text x="0" y="0" font-size="8.2" text-anchor="end" font-weight="normal" fill="#222" stroke="#222" stroke-width="0.18" font-family='"Liberation Sans", sans-serif' transform="translate(212.3 274.12) scale(1 1.25)" >20</text>
<line x1="214.7" y1="259.83" x2="216.1" y2="259.83" stroke="#2b2b2b" stroke-width="1.0" />
<line x1="213.7" y1="249.04" x2="216.1" y2="249.04" stroke="#2b2b2b" stroke-width="1.0" />
<text x="0" y="0" font-size="8.2" text-anchor="end" font-weight="normal" fill="#222" stroke="#222" stroke-width="0.18" font-family='"Liberation Sans", sans-serif' transform="translate(212.3 252.54) scale(1 1.25)" >40</text>
<line x1="214.7" y1="238.25" x2="216.1" y2="238.25" stroke="#2b2b2b" stroke-width="1.0" />
<line x1="213.7" y1="227.45999999999998" x2="216.1" y2="227.45999999999998" stroke="#2b2b2b" stroke-width="1.0" />
<text x="0" y="0" font-size="8.2" text-anchor="end" font-weight="normal" fill="#222" stroke="#222" stroke-width="0.18" font-family='"Liberation Sans", sans-serif' transform="translate(212.3 230.95999999999998) scale(1 1.25)" >60</text>
<line x1="214.7" y1="216.67" x2="216.1" y2="216.67" stroke="#2b2b2b" stroke-width="1.0" />
<line x1="213.7" y1="205.88" x2="216.1" y2="205.88" stroke="#2b2b2b" stroke-width="1.0" />
<text x="0" y="0" font-size="8.2" text-anchor="end" font-weight="normal" fill="#222" stroke="#222" stroke-width="0.18" font-family='"Liberation Sans", sans-serif' transform="translate(212.3 209.38) scale(1 1.25)" >80</text>
<line x1="214.7" y1="195.08999999999997" x2="216.1" y2="195.08999999999997" stroke="#2b2b2b" stroke-width="1.0" />
<line x1="213.7" y1="184.3" x2="216.1" y2="184.3" stroke="#2b2b2b" stroke-width="1.0" />
<text x="0" y="0" font-size="8.2" text-anchor="end" font-weight="normal" fill="#222" stroke="#222" stroke-width="0.18" font-family='"Liberation Sans", sans-serif' transform="translate(212.3 187.8) scale(1 1.25)" >100</text>
<text x="0" y="0" font-size="9.4" text-anchor="middle" font-weight="normal" fill="#222" stroke="#222" stroke-width="0.05" font-family='"Liberation Sans", sans-serif' transform="translate(193.9 242.6) rotate(-90)" textLength="42.5" lengthAdjust="spacingAndGlyphs" >PLQY (%)</text>
<text x="0" y="0" font-size="18.5" text-anchor="start" font-weight="normal" fill="#111" stroke="#111" stroke-width="0.05" font-family='"Liberation Sans", sans-serif' transform="translate(367.3 179.7) scale(1 1.0)" >(f)</text>
<rect x="402.9" y="182.0" width="140.60000000000002" height="112.0" fill="none" stroke="#2b2b2b" stroke-width="1.3"/>
<line x1="400.5" y1="289.15" x2="402.9" y2="289.15" stroke="#2b2b2b" stroke-width="1.0" />
<text x="0" y="0" font-size="8.2" text-anchor="end" font-weight="normal" fill="#222" stroke="#222" stroke-width="0.18" font-family='"Liberation Sans", sans-serif' transform="translate(398.3 292.25) scale(1 1.25)" >0</text>
<line x1="401.5" y1="278.97499999999997" x2="402.9" y2="278.97499999999997" stroke="#2b2b2b" stroke-width="1.0" />
<line x1="400.5" y1="268.79999999999995" x2="402.9" y2="268.79999999999995" stroke="#2b2b2b" stroke-width="1.0" />
<text x="0" y="0" font-size="8.2" text-anchor="end" font-weight="normal" fill="#222" stroke="#222" stroke-width="0.18" font-family='"Liberation Sans", sans-serif' transform="translate(398.3 271.9) scale(1 1.25)" >20</text>
<line x1="401.5" y1="258.625" x2="402.9" y2="258.625" stroke="#2b2b2b" stroke-width="1.0" />
<line x1="400.5" y1="248.45" x2="402.9" y2="248.45" stroke="#2b2b2b" stroke-width="1.0" />
<text x="0" y="0" font-size="8.2" text-anchor="end" font-weight="normal" fill="#222" stroke="#222" stroke-width="0.18" font-family='"Liberation Sans", sans-serif' transform="translate(398.3 251.54999999999998) scale(1 1.25)" >40</text>
<line x1="401.5" y1="238.27499999999998" x2="402.9" y2="238.27499999999998" stroke="#2b2b2b" stroke-width="1.0" />
<line x1="400.5" y1="228.09999999999997" x2="402.9" y2="228.09999999999997" stroke="#2b2b2b" stroke-width="1.0" />
<text x="0" y="0" font-size="8.2" text-anchor="end" font-weight="normal" fill="#222" stroke="#222" stroke-width="0.18" font-family='"Liberation Sans", sans-serif' transform="translate(398.3 231.19999999999996) scale(1 1.25)" >60</text>
<line x1="401.5" y1="217.92499999999995" x2="402.9" y2="217.92499999999995" stroke="#2b2b2b" stroke-width="1.0" />
<line x1="400.5" y1="207.74999999999997" x2="402.9" y2="207.74999999999997" stroke="#2b2b2b" stroke-width="1.0" />
<text x="0" y="0" font-size="8.2" text-anchor="end" font-weight="normal" fill="#222" stroke="#222" stroke-width="0.18" font-family='"Liberation Sans", sans-serif' transform="translate(398.3 210.84999999999997) scale(1 1.25)" >80</text>
<line x1="401.5" y1="197.575" x2="402.9" y2="197.575" stroke="#2b2b2b" stroke-width="1.0" />
<line x1="400.5" y1="187.39999999999998" x2="402.9" y2="187.39999999999998" stroke="#2b2b2b" stroke-width="1.0" />
<text x="0" y="0" font-size="8.2" text-anchor="end" font-weight="normal" fill="#222" stroke="#222" stroke-width="0.18" font-family='"Liberation Sans", sans-serif' transform="translate(398.3 190.49999999999997) scale(1 1.25)" >100</text>
<line x1="403.2" y1="294.0" x2="403.2" y2="296.6" stroke="#2b2b2b" stroke-width="1.0" />
<text x="0" y="0" font-size="8.2" text-anchor="middle" font-weight="normal" fill="#222" stroke="#222" stroke-width="0.18" font-family='"Liberation Sans", sans-serif' transform="translate(403.2 305.0) scale(1 1.25)" >0</text>
<line x1="410.875" y1="294.0" x2="410.875" y2="295.6" stroke="#2b2b2b" stroke-width="1.0" />
<line x1="418.55" y1="294.0" x2="418.55" y2="296.6" stroke="#2b2b2b" stroke-width="1.0" />
<text x="0" y="0" font-size="8.2" text-anchor="middle" font-weight="normal" fill="#222" stroke="#222" stroke-width="0.18" font-family='"Liberation Sans", sans-serif' transform="translate(418.55 305.0) scale(1 1.25)" >5</text>
<line x1="426.22499999999997" y1="294.0" x2="426.22499999999997" y2="295.6" stroke="#2b2b2b" stroke-width="1.0" />
<line x1="433.9" y1="294.0" x2="433.9" y2="296.6" stroke="#2b2b2b" stroke-width="1.0" />
<text x="0" y="0" font-size="8.2" text-anchor="middle" font-weight="normal" fill="#222" stroke="#222" stroke-width="0.18" font-family='"Liberation Sans", sans-serif' transform="translate(433.9 305.0) scale(1 1.25)" >10</text>
<line x1="441.575" y1="294.0" x2="441.575" y2="295.6" stroke="#2b2b2b" stroke-width="1.0" />
<line x1="449.25" y1="294.0" x2="449.25" y2="296.6" stroke="#2b2b2b" stroke-width="1.0" />
<text x="0" y="0" font-size="8.2" text-anchor="middle" font-weight="normal" fill="#222" stroke="#222" stroke-width="0.18" font-family='"Liberation Sans", sans-serif' transform="translate(449.25 305.0) scale(1 1.25)" >15</text>
<line x1="456.92499999999995" y1="294.0" x2="456.92499999999995" y2="295.6" stroke="#2b2b2b" stroke-width="1.0" />
<line x1="464.59999999999997" y1="294.0" x2="464.59999999999997" y2="296.6" stroke="#2b2b2b" stroke-width="1.0" />
<text x="0" y="0" font-size="8.2" text-anchor="middle" font-weight="normal" fill="#222" stroke="#222" stroke-width="0.18" font-family='"Liberation Sans", sans-serif' transform="translate(464.59999999999997 305.0) scale(1 1.25)" >20</text>
<line x1="472.275" y1="294.0" x2="472.275" y2="295.6" stroke="#2b2b2b" stroke-width="1.0" />
<line x1="479.95" y1="294.0" x2="479.95" y2="296.6" stroke="#2b2b2b" stroke-width="1.0" />
<text x="0" y="0" font-size="8.2" text-anchor="middle" font-weight="normal" fill="#222" stroke="#222" stroke-width="0.18" font-family='"Liberation Sans", sans-serif' transform="translate(479.95 305.0) scale(1 1.25)" >25</text>
<line x1="487.625" y1="294.0" x2="487.625" y2="295.6" stroke="#2b2b2b" stroke-width="1.0" />
<line x1="495.29999999999995" y1="294.0" x2="495.29999999999995" y2="296.6" stroke="#2b2b2b" stroke-width="1.0" />
<text x="0" y="0" font-size="8.2" text-anchor="middle" font-weight="normal" fill="#222" stroke="#222" stroke-width="0.18" font-family='"Liberation Sans", sans-serif' transform="translate(495.29999999999995 305.0) scale(1 1.25)" >30</text>
<line x1="502.97499999999997" y1="294.0" x2="502.97499999999997" y2="295.6" stroke="#2b2b2b" stroke-width="1.0" />
<line x1="510.65" y1="294.0" x2="510.65" y2="296.6" stroke="#2b2b2b" stroke-width="1.0" />
<text x="0" y="0" font-size="8.2" text-anchor="middle" font-weight="normal" fill="#222" stroke="#222" stroke-width="0.18" font-family='"Liberation Sans", sans-serif' transform="translate(510.65 305.0) scale(1 1.25)" >35</text>
<line x1="518.325" y1="294.0" x2="518.325" y2="295.6" stroke="#2b2b2b" stroke-width="1.0" />
<line x1="526.0" y1="294.0" x2="526.0" y2="296.6" stroke="#2b2b2b" stroke-width="1.0" />
<text x="0" y="0" font-size="8.2" text-anchor="middle" font-weight="normal" fill="#222" stroke="#222" stroke-width="0.18" font-family='"Liberation Sans", sans-serif' transform="translate(526.0 305.0) scale(1 1.25)" >40</text>
<line x1="533.675" y1="294.0" x2="533.675" y2="295.6" stroke="#2b2b2b" stroke-width="1.0" />
<line x1="541.35" y1="294.0" x2="541.35" y2="296.6" stroke="#2b2b2b" stroke-width="1.0" />
<text x="0" y="0" font-size="8.2" text-anchor="middle" font-weight="normal" fill="#222" stroke="#222" stroke-width="0.18" font-family='"Liberation Sans", sans-serif' transform="translate(541.35 305.0) scale(1 1.25)" >45</text>
<text x="0" y="0" font-size="9.5" text-anchor="middle" font-weight="normal" fill="#222" stroke="#222" stroke-width="0.06" font-family='"Liberation Sans", sans-serif' transform="translate(473.2 322.6) scale(1 1.15)" >Storage Time (Day)</text>
<text x="0" y="0" font-size="9.4" text-anchor="middle" font-weight="normal" fill="#222" stroke="#222" stroke-width="0.05" font-family='"Liberation Sans", sans-serif' transform="translate(376.0 238.2) rotate(-90)" textLength="43.5" lengthAdjust="spacingAndGlyphs" >PLQY (%)</text>
<text x="0" y="0" font-size="11" fill="#1e1e1e" stroke="#1e1e1e" stroke-width="0.05" font-family='"Liberation Serif", serif' transform="translate(391.5 97.3) rotate(-90)" textLength="27.5" lengthAdjust="spacing">&#945;h&#957;<tspan font-size="6.1">)</tspan><tspan font-size="11.0" dy="-3.2">2</tspan></text>
<text x="0" y="0" font-size="11" fill="#1e1e1e" stroke="#1e1e1e" stroke-width="0.05" font-family='"Liberation Serif", serif' transform="translate(18.1 259.4) rotate(-90)" textLength="27.5" lengthAdjust="spacing">&#945;h&#957;<tspan font-size="6.1">)</tspan><tspan font-size="11.0" dy="-3.2">2</tspan></text>
<defs>
<linearGradient id="b1h" x1="0" x2="1" y1="0" y2="0">
<stop offset="0" stop-color="#4a0a3a"/><stop offset="0.09" stop-color="#b01060"/><stop offset="0.14" stop-color="#ff3a8e"/><stop offset="0.26" stop-color="#ff3a86"/><stop offset="0.33" stop-color="#ff1462"/><stop offset="0.85" stop-color="#ff0e5a"/><stop offset="0.95" stop-color="#e01060"/><stop offset="1" stop-color="#8a1070"/>
</linearGradient>
<linearGradient id="b2h" x1="0" x2="1" y1="0" y2="0">
<stop offset="0" stop-color="#3a1060"/><stop offset="0.06" stop-color="#a01090"/><stop offset="0.13" stop-color="#ff2090"/><stop offset="0.8" stop-color="#ff0e78"/><stop offset="0.92" stop-color="#e0107e"/><stop offset="1" stop-color="#7a1070"/>
</linearGradient>
</defs>
<g>
<rect x="231" y="246.0" width="17" height="47.2" fill="url(#b1h)"/>
<rect x="236" y="246.0" width="7.8" height="3.0" fill="#3c0822"/>
<rect x="233" y="246.0" width="3" height="1.6" fill="#a0104a"/>
<rect x="243.8" y="246.0" width="3" height="1.6" fill="#a0104a"/>
<linearGradient id="b1v" x1="0" x2="0" y1="0" y2="1"><stop offset="0" stop-color="#ff0c62" stop-opacity="0"/><stop offset="1" stop-color="#ff10b8" stop-opacity="1"/></linearGradient>
<rect x="233" y="272" width="13.5" height="18" fill="url(#b1v)"/>
<rect x="231" y="262" width="1.4" height="31" fill="#301060"/>
<rect x="232.4" y="270" width="2.0" height="20" fill="#9030e0" opacity="0.85"/>
<rect x="246.4" y="268" width="1.6" height="22" fill="#6a30d8" opacity="0.9"/>
<rect x="231" y="286" width="2.2" height="3.6" fill="#3088ff"/>
<rect x="246" y="286" width="2.0" height="3.6" fill="#30a0ff"/>
<rect x="234.5" y="287.8" width="11" height="1.5" fill="#ff90e8" opacity="0.9"/>
<rect x="231" y="289.6" width="17" height="3.6" fill="#ff08c0"/>
<rect x="287.1" y="231.6" width="19.8" height="49.4" fill="url(#b2h)"/>
<rect x="287.1" y="231.6" width="19.8" height="0.7" fill="#ffb080"/>
<rect x="289.5" y="232.4" width="15" height="7" fill="#ff50d0" opacity="0.7"/>
<path d="M302,238.5 L305.2,233.8 L306,234.5 L303,239.3 Z" fill="#ffe0ff"/>
<rect x="291" y="233.2" width="6" height="2.5" fill="#ff90e8" opacity="0.8"/>
<rect x="287.1" y="281" width="19.8" height="12.1" fill="#ffae70"/>
</g>
<text x="0" y="0" font-size="8.6" text-anchor="start" font-weight="bold" fill="#111" stroke="#111" stroke-width="0.4" letter-spacing="0.35" font-family='"Liberation Sans", sans-serif' transform="translate(225.6 245.3) scale(1 0.97)"><tspan>CsPbI</tspan><tspan font-size="6.54" dy="2.41">3</tspan></text>
<text x="0" y="0" font-size="8.0" text-anchor="start" font-weight="bold" fill="#111" stroke="#111" stroke-width="0.4" letter-spacing="0.65" font-family='"Liberation Sans", sans-serif' transform="translate(277.6 228.3) scale(1 0.97)"><tspan>YCl</tspan><tspan font-size="6.08" dy="2.24">3</tspan><tspan dy="-2.24">:CsPbI</tspan><tspan font-size="6.08" dy="2.24">3</tspan></text>
<path d="M403.20,217.70 L406.27,217.80 L409.34,218.80 L412.41,219.30 L421.62,220.70 L440.04,221.70 L449.25,224.90 L458.46,225.80 L467.67,227.10 L476.88,229.10 L486.09,229.30 L495.30,229.80 L504.51,231.00 L513.72,233.20 L522.93,234.10 L526.00,234.20 L532.14,235.10 L535.21,236.10 L541.35,237.80" fill="none" stroke="#ff1010" stroke-width="1.3" stroke-linejoin="round" stroke-linecap="round" />
<circle cx="403.20" cy="217.70" r="1.5" fill="#ff1010"/>
<circle cx="406.27" cy="217.80" r="1.5" fill="#ff1010"/>
<circle cx="409.34" cy="218.80" r="1.5" fill="#ff1010"/>
<circle cx="412.41" cy="219.30" r="1.5" fill="#ff1010"/>
<circle cx="421.62" cy="220.70" r="1.5" fill="#ff1010"/>
<circle cx="440.04" cy="221.70" r="1.5" fill="#ff1010"/>
<circle cx="449.25" cy="224.90" r="1.5" fill="#ff1010"/>
<circle cx="458.46" cy="225.80" r="1.5" fill="#ff1010"/>
<circle cx="467.67" cy="227.10" r="1.5" fill="#ff1010"/>
<circle cx="476.88" cy="229.10" r="1.5" fill="#ff1010"/>
<circle cx="486.09" cy="229.30" r="1.5" fill="#ff1010"/>
<circle cx="495.30" cy="229.80" r="1.5" fill="#ff1010"/>
<circle cx="504.51" cy="231.00" r="1.5" fill="#ff1010"/>
<circle cx="513.72" cy="233.20" r="1.5" fill="#ff1010"/>
<circle cx="522.93" cy="234.10" r="1.5" fill="#ff1010"/>
<circle cx="526.00" cy="234.20" r="1.5" fill="#ff1010"/>
<circle cx="532.14" cy="235.10" r="1.5" fill="#ff1010"/>
<circle cx="535.21" cy="236.10" r="1.5" fill="#ff1010"/>
<circle cx="541.35" cy="237.80" r="1.5" fill="#ff1010"/>
<path d="M403.20,238.00 L406.27,242.20 L409.34,245.60 L412.41,247.40 L421.62,249.70 L440.04,253.80 L449.25,257.90 L458.46,264.10 L467.67,262.80 L476.88,266.90 L486.09,274.50 L495.30,277.50 L504.51,279.50 L513.72,281.40 L522.93,284.70 L526.00,289.80" fill="none" stroke="#1a1a1a" stroke-width="1.3" stroke-linejoin="round" stroke-linecap="round" />
<circle cx="403.20" cy="238.00" r="1.5" fill="#1a1a1a"/>
<circle cx="406.27" cy="242.20" r="1.5" fill="#1a1a1a"/>
<circle cx="409.34" cy="245.60" r="1.5" fill="#1a1a1a"/>
<circle cx="412.41" cy="247.40" r="1.5" fill="#1a1a1a"/>
<circle cx="421.62" cy="249.70" r="1.5" fill="#1a1a1a"/>
<circle cx="440.04" cy="253.80" r="1.5" fill="#1a1a1a"/>
<circle cx="449.25" cy="257.90" r="1.5" fill="#1a1a1a"/>
<circle cx="458.46" cy="264.10" r="1.5" fill="#1a1a1a"/>
<circle cx="467.67" cy="262.80" r="1.5" fill="#1a1a1a"/>
<circle cx="476.88" cy="266.90" r="1.5" fill="#1a1a1a"/>
<circle cx="486.09" cy="274.50" r="1.5" fill="#1a1a1a"/>
<circle cx="495.30" cy="277.50" r="1.5" fill="#1a1a1a"/>
<circle cx="504.51" cy="279.50" r="1.5" fill="#1a1a1a"/>
<circle cx="513.72" cy="281.40" r="1.5" fill="#1a1a1a"/>
<circle cx="522.93" cy="284.70" r="1.5" fill="#1a1a1a"/>
<circle cx="526.00" cy="289.80" r="1.5" fill="#1a1a1a"/>
<line x1="480.9" y1="189.2" x2="494.5" y2="189.2" stroke="#1a1a1a" stroke-width="1.1" />
<circle cx="487.7" cy="189.2" r="1.5" fill="#1a1a1a"/>
<text x="0" y="0" font-size="7.3" text-anchor="start" font-weight="normal" fill="#2a2a2a" stroke="#2a2a2a" stroke-width="0.12" letter-spacing="0.3" font-family='"Liberation Sans", sans-serif' transform="translate(495.9 191.7) scale(1 1.0)"><tspan>CsPbI</tspan><tspan font-size="6.72" dy="1.90">3</tspan></text>
<line x1="480.9" y1="201.7" x2="494.5" y2="201.7" stroke="#ff1010" stroke-width="1.1" />
<circle cx="487.7" cy="201.7" r="1.5" fill="#ff1010"/>
<text x="0" y="0" font-size="7.3" text-anchor="start" font-weight="normal" fill="#2a2a2a" stroke="#2a2a2a" stroke-width="0.12" letter-spacing="0.3" font-family='"Liberation Sans", sans-serif' transform="translate(495.9 204.2) scale(1 1.0)"><tspan>YCl</tspan><tspan font-size="6.72" dy="1.90">3</tspan><tspan dy="-1.90">:CsPbI</tspan><tspan font-size="6.72" dy="1.90">3</tspan></text>
<text x="0" y="0" font-size="7.2" text-anchor="start" font-weight="bold" fill="#111" stroke="#111" stroke-width="0.2" letter-spacing="0.1" font-family='"Liberation Sans", sans-serif' transform="translate(405.0 256.9) scale(1 1.1)"><tspan>CsPbI</tspan><tspan font-size="5.04" dy="1.80">3</tspan></text>
<text x="0" y="0" font-size="7.2" text-anchor="start" font-weight="bold" fill="#ff1a1a" stroke="#ff1a1a" stroke-width="0.05" letter-spacing="0.05" font-family='"Liberation Sans", sans-serif' transform="translate(496.3 244.0) scale(1 1.15)"><tspan>YCl</tspan><tspan font-size="4.68" dy="1.80">3</tspan><tspan dy="-1.80">:CsPbI</tspan><tspan font-size="4.68" dy="1.80">3</tspan></text>
<g>
<rect x="406.8" y="260.7" width="20.2" height="29.8" fill="#d2b845"/>
<circle cx="416.8" cy="270.8" r="8.3" fill="none" stroke="#8f7a28" stroke-width="0.7"/>
<circle cx="416.8" cy="270.8" r="7.4" fill="none" stroke="#3a2c08" stroke-width="1.3" stroke-dasharray="1.1 2.2"/>
<circle cx="416.8" cy="270.8" r="6.2" fill="none" stroke="#a08a30" stroke-width="0.5"/>
<path d="M413,267.6 L421,267.6 L421,273 Q417,276.5 413,273 Z" fill="#1c1508"/>
<rect x="406.8" y="281" width="20.2" height="9.5" fill="#3e3412"/>
<rect x="415.7" y="281" width="6.4" height="2.8" fill="#b88a22"/>
<rect x="415.7" y="283.6" width="6.4" height="6.9" fill="#e4cc1a"/>
<rect x="407.5" y="282" width="3" height="4" fill="#8a6a10" opacity="0.7"/><rect x="423" y="282" width="3.5" height="3" fill="#6a5010" opacity="0.7"/>
</g>
<g>
<rect x="516.2" y="247.8" width="20" height="31.7" fill="#ccb048"/>
<circle cx="526" cy="257.4" r="8.4" fill="none" stroke="#8f7a28" stroke-width="0.7"/>
<circle cx="526" cy="257.4" r="7.4" fill="none" stroke="#3a2c08" stroke-width="1.3" stroke-dasharray="1.1 2.2"/>
<circle cx="526" cy="257.4" r="6.3" fill="none" stroke="#a08a30" stroke-width="0.5"/>
<rect x="522" y="252.9" width="6.8" height="6.8" rx="1" fill="#1c1508"/>
<rect x="523.3" y="259.7" width="5.2" height="6" fill="#d08a20"/>
<rect x="523.3" y="265.5" width="5.2" height="5.5" fill="#6a2410"/>
<rect x="516.2" y="270.4" width="20" height="9.1" fill="#3a3018"/>
<rect x="523.3" y="270.4" width="5.2" height="1.5" fill="#b07020"/>
<text x="526.2" y="278.3" font-size="4.2" font-weight="bold" text-anchor="middle" fill="#c8b070" font-family='"Liberation Sans", sans-serif'>ACL</text>
</g>
</svg>
</body></html>
